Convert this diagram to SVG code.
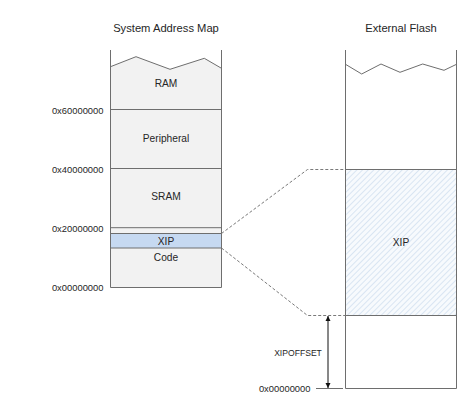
<svg xmlns="http://www.w3.org/2000/svg" width="474" height="403" viewBox="0 0 474 403">
<style>
  text { font-family: "Liberation Sans", Arial, sans-serif; fill: #262626; }
  .title { font-size: 11.2px; text-anchor: middle; }
  .lbl { font-size: 10.2px; text-anchor: middle; }
  .addr { font-size: 9.4px; text-anchor: end; }
  .seg { fill: #f2f2f2; stroke: none; }
  .edge { stroke: #6e6e6e; stroke-width: 1; fill: none; }
  .dash { stroke: #7a7a7a; stroke-width: 1; fill: none; stroke-dasharray: 3 2; }
</style>
<defs>
  <pattern id="hatch" width="4" height="4" patternUnits="userSpaceOnUse" patternTransform="rotate(45)">
    <rect width="4" height="4" fill="#f7fafd"/>
    <line x1="0" y1="0" x2="0" y2="4" stroke="#cddcee" stroke-width="1.4"/>
  </pattern>
  <marker id="arr" viewBox="0 0 10 10" refX="10" refY="5" markerWidth="5" markerHeight="7" orient="auto-start-reverse" markerUnits="userSpaceOnUse">
    <path d="M0,0 L10,5 L0,10 z" fill="#111"/>
  </marker>
</defs>
<rect width="474" height="403" fill="#fff"/>

<g id="title-system"><text class="title" x="166" y="32">System Address Map</text></g>
<g id="title-flash"><text class="title" x="401" y="32">External Flash</text></g>

<g id="ram">
  <path class="seg" d="M110.5,66.7 L136,56.7 L170,69.3 L204.3,58.3 L221.5,68.3 L221.5,109.5 L110.5,109.5 Z"/>
  <path class="edge" d="M110.5,66.7 L136,56.7 L170,69.3 L204.3,58.3 L221.5,68.3"/>
  <text class="lbl" x="166" y="87">RAM</text>
</g>
<g id="peripheral">
  <rect class="seg" x="110.5" y="109.5" width="111" height="59"/>
  <text class="lbl" x="166" y="142">Peripheral</text>
</g>
<g id="sram">
  <rect class="seg" x="110.5" y="168.5" width="111" height="65"/>
  <text class="lbl" x="166" y="200">SRAM</text>
</g>
<g id="xip-map">
  <rect x="110.5" y="233.5" width="111" height="14.5" fill="#c6d9f1"/>
  <text class="lbl" x="166" y="245">XIP</text>
</g>
<g id="code">
  <rect class="seg" x="110.5" y="248" width="111" height="39.5"/>
  <text class="lbl" x="166" y="261">Code</text>
</g>
<g id="map-lines">
  <line class="edge" x1="110.5" y1="50" x2="110.5" y2="287.5"/>
  <line class="edge" x1="221.5" y1="50" x2="221.5" y2="287.5"/>
  <line class="edge" x1="110.5" y1="287.5" x2="221.5" y2="287.5"/>
  <line class="edge" x1="110.5" y1="109.5" x2="221.5" y2="109.5"/>
  <line class="edge" x1="110.5" y1="168.5" x2="221.5" y2="168.5"/>
  <line class="edge" x1="110.5" y1="227.7" x2="221.5" y2="227.7"/>
  <line class="edge" x1="110.5" y1="233.5" x2="221.5" y2="233.5"/>
  <line class="edge" x1="110.5" y1="248" x2="221.5" y2="248"/>
</g>

<g id="addr-labels">
  <text class="addr" x="103.5" y="114">0x60000000</text>
  <text class="addr" x="103.5" y="173">0x40000000</text>
  <text class="addr" x="103.5" y="231.5">0x20000000</text>
  <text class="addr" x="103.5" y="291">0x00000000</text>
</g>

<g id="flash">
  <line class="edge" x1="345.5" y1="50" x2="345.5" y2="388.5"/>
  <line class="edge" x1="456.5" y1="50" x2="456.5" y2="388.5"/>
  <line class="edge" x1="345.5" y1="388.5" x2="456.5" y2="388.5"/>
  <path class="edge" d="M345.5,64.3 L361.7,74 L381,64 L400,72.3 L422.7,64 L444,70.3 L456.5,64.3"/>
</g>
<g id="xip-flash">
  <rect x="345.5" y="169.5" width="111" height="146" fill="url(#hatch)" stroke="#6e6e6e" stroke-width="1"/>
  <text class="lbl" x="401" y="245.5">XIP</text>
</g>

<g id="connectors">
  <polyline class="dash" points="221.5,233.5 307.5,169.5 345.5,169.5"/>
  <polyline class="dash" points="221.5,248 307.5,315.5 345.5,315.5"/>
  <line x1="328" y1="316" x2="328" y2="388" stroke="#111" stroke-width="1" marker-start="url(#arr)" marker-end="url(#arr)"/>
  <line class="edge" x1="316" y1="388.5" x2="343" y2="388.5"/>
</g>

<g id="offset-labels">
  <text x="298" y="356" style="font-size:8.6px;text-anchor:middle">XIPOFFSET</text>
  <text class="addr" x="310.5" y="392">0x00000000</text>
</g>
</svg>
